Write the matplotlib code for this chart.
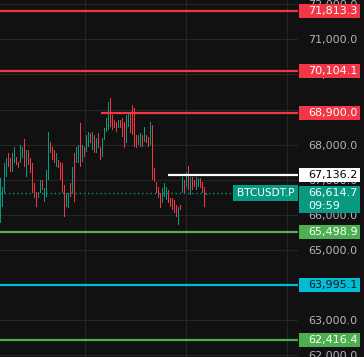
import matplotlib
matplotlib.use('Agg')
from matplotlib import pyplot as pl
from matplotlib.patches import Rectangle
from matplotlib.transforms import blended_transform_factory
from matplotlib.ticker import FuncFormatter
import numpy as np

# candles (oldest first)
opens = [65748, 66224, 66605, 67081, 67748, 67605, 67224, 67462, 67652, 67510,
         67462, 67605, 68147, 67081, 67843, 67605, 67462, 66891, 66653, 66462,
         66605, 66986, 66367, 66510, 66986, 68081, 67938, 67843, 67367, 67557,
         67510, 67462, 66843, 66224, 66177, 66891, 66605, 67748, 67462, 67462,
         68604, 67510, 67938, 67795, 67938, 68319, 67843, 68271, 67748, 68319,
         67938, 67652, 68128, 68366, 68414, 69318, 68842, 68700, 68652, 68462,
         68700, 68747, 68652, 68033, 68509, 68938, 69128, 69033, 68271, 67986,
         67938, 68271, 68081, 68271, 68224, 67986, 68557, 67319, 66938, 66796,
         66605, 66320, 66510, 66415, 66700, 66462, 66462, 66415, 66272, 65701,
         66272, 66605, 66986, 66796, 67386, 66558, 67081, 66986, 66700, 66796,
         67036, 66940, 66798, 66560]
closes = [67034, 66796, 67462, 67605, 67367, 67224, 67748, 67938, 67414, 67319,
          67986, 67938, 67367, 67843, 67414, 67176, 66605, 66462, 66206, 66653,
          66986, 66700, 66748, 67272, 68366, 67748, 67557, 67462, 67748, 67319,
          66986, 66605, 65939, 66605, 66605, 66510, 67367, 66367, 67938, 67986,
          67367, 67986, 67652, 68271, 68366, 68033, 68366, 67748, 68176, 67890,
          67557, 68176, 68462, 68747, 69223, 68509, 68414, 68462, 68366, 68700,
          68462, 68224, 67890, 68842, 68938, 68319, 68271, 67938, 67890, 68271,
          68319, 67938, 68509, 68033, 67938, 68652, 66986, 66938, 66605, 66462,
          66177, 66748, 66891, 66796, 66320, 66224, 66129, 66034, 65939, 66224,
          66129, 67081, 66605, 67224, 66700, 67081, 66700, 66796, 67081, 67034,
          66750, 66607, 66227, 66614.7]

# horizontal levels
levels = [71813.3, 70104.1, 68900.0, 67136.2, 65498.9, 63995.1, 62416.4]
level_colors = ['#f23645', '#f23645', '#f23645', '#ffffff', '#5fa85c', '#00bcd4', '#4caf50']
box_colors = ['#f23645', '#f23645', '#f23645', '#ffffff', '#4caf50', '#00bcd4', '#4caf50']
text_colors = ['white', 'white', 'white', 'black', 'white', '#131722', 'white']
level_start = [None, None, 50.25, 83.75, None, None, None]

last_price = 66614.7
symbol = 'BTCUSDT.P'
countdown = '09:59'
yticks = np.arange(62000, 72001, 1000)

bg = '#111111'
up = '#089981'
down = '#f23645'

W, H = 364, 357
ylo, yhi = 61930, 72128
xlo, xhi = -0.25, 148.75   # 2 px per candle

fig = pl.figure(figsize=(W/100, H/100), dpi=100)
fig.patch.set_facecolor(bg)
ax = fig.add_axes([0, 0, 298/W, 1])
ax.set_facecolor(bg)
ax.set_xlim(xlo, xhi)
ax.set_ylim(ylo, yhi)
for s in ax.spines.values():
    s.set_visible(False)

# grid
for v in [42.25, 92.75, 143.25]:
    ax.axvline(v, color='#262626', lw=0.8, zorder=0)
for t in yticks:
    ax.axhline(t, color='#262626', lw=0.8, zorder=0)

# candles
x = np.arange(len(opens))
o = np.array(opens)
c = np.array(closes)
cols = np.where(c >= o, up, down)
ax.bar(x, np.abs(c-o), bottom=np.minimum(o, c), width=0.5, color=cols,
       linewidth=0, zorder=2)

# last price dotted line
ax.hlines(last_price, xlo, 116.25, colors=up, linestyles=(0, (1, 2)), lw=1, zorder=1)

# level lines
for lv, lc, st in zip(levels, level_colors, level_start):
    ax.hlines(lv, xlo if st is None else st, xhi, colors=lc, lw=1.6, zorder=3)

# right price scale
ax.yaxis.tick_right()
ax.set_yticks(yticks)
ax.yaxis.set_major_formatter(FuncFormatter(lambda v, p: '{:,.1f}'.format(v)))
ax.tick_params(axis='y', length=0, pad=7.3, labelsize=8, labelcolor='#b2b5be')
ax.set_xticks([])

px = (yhi-ylo)/H
tr = blended_transform_factory(fig.transFigure, ax.transData)

for lv, bc, tc in zip(levels, box_colors, text_colors):
    ax.add_patch(Rectangle((299/W, lv-7*px), 61/W, 14*px, transform=tr,
                           facecolor=bc, edgecolor='none', clip_on=False, zorder=6))
    ax.text(308/W, lv, '{:,.1f}'.format(lv), transform=tr, color=tc, fontsize=8,
            ha='left', va='center', zorder=7, clip_on=False)

# current price box
ax.add_patch(Rectangle((299/W, last_price-20*px), 61/W, 27*px, transform=tr,
                       facecolor=up, edgecolor='none', clip_on=False, zorder=6))
ax.text(308/W, last_price, '{:,.1f}'.format(last_price), transform=tr, color='white',
        fontsize=8, ha='left', va='center', zorder=7, clip_on=False)
ax.text(308/W, last_price-13*px, countdown, transform=tr, color='white',
        fontsize=8, ha='left', va='center', zorder=7, clip_on=False)

# symbol box
ax.add_patch(Rectangle((233/W, last_price-8*px), 65/W, 16*px, transform=tr,
                       facecolor=up, edgecolor='none', clip_on=False, zorder=6))
ax.text(265.5/W, last_price, symbol, transform=tr, color='white', fontsize=7.6,
        ha='center', va='center', zorder=7, clip_on=False)

fig.savefig('out.png', dpi=100, facecolor=bg)
